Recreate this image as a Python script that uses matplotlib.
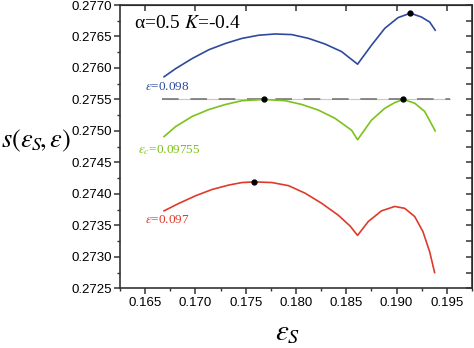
import matplotlib
matplotlib.use("Agg")
import matplotlib.pyplot as plt
from matplotlib.ticker import MultipleLocator

plt.rcParams["mathtext.fontset"] = "stix"

# ---- data ----
blue_x = [0.16688, 0.16804, 0.16968, 0.17134, 0.17299, 0.17463, 0.17629, 0.17794, 0.17958,
          0.18124, 0.18289, 0.18453, 0.18612, 0.18750, 0.18883, 0.19015, 0.19137, 0.19246,
          0.19329, 0.19384]
blue_y = [0.27586, 0.27599, 0.27615, 0.27629, 0.27639, 0.27647, 0.27652, 0.27654, 0.27653,
          0.27647, 0.27638, 0.27626, 0.27606, 0.27636, 0.27663, 0.27680, 0.27687, 0.27681,
          0.27673, 0.27660]

green_x = [0.16688, 0.16804, 0.16968, 0.17134, 0.17299, 0.17463, 0.17681, 0.17893, 0.18057,
           0.18223, 0.18388, 0.18553, 0.18612, 0.18750, 0.18883, 0.18982, 0.19067, 0.19180,
           0.19279, 0.19384]
green_y = [0.27491, 0.27507, 0.27523, 0.27534, 0.27542, 0.27548, 0.27550, 0.27548, 0.27542,
           0.27533, 0.27520, 0.27501, 0.27486, 0.27517, 0.27536, 0.27545, 0.27550, 0.27544,
           0.27531, 0.27500]

red_x = [0.16688, 0.16837, 0.17002, 0.17166, 0.17332, 0.17463, 0.17586, 0.17760, 0.17926,
         0.18091, 0.18255, 0.18421, 0.18537, 0.18612, 0.18718, 0.18850, 0.18982, 0.19081,
         0.19180, 0.19262, 0.19329, 0.19378]
red_y = [0.27373, 0.27385, 0.27397, 0.27407, 0.27414, 0.27418, 0.27419, 0.27418, 0.27413,
         0.27401, 0.27385, 0.27366, 0.27349, 0.27334, 0.27356, 0.27373, 0.27380, 0.27377,
         0.27364, 0.27340, 0.27308, 0.27275]

max_x = [0.19137, 0.17681, 0.19067, 0.17586]
max_y = [0.27687, 0.27550, 0.27550, 0.27419]

crit_level = 0.2755
crit_x = [0.1667, 0.1953]

x_ticks = [0.165, 0.170, 0.175, 0.180, 0.185, 0.190, 0.195]
y_ticks = [0.2725, 0.2730, 0.2735, 0.2740, 0.2745, 0.2750, 0.2755, 0.2760, 0.2765, 0.2770]

BLUE = "#2e4a9e"
GREEN = "#7cc21a"
RED = "#e03a2a"
DARK = "#333333"

fig = plt.figure(figsize=(4.74, 3.48), dpi=100)
ax = fig.add_axes([0.2532, 0.1716, 0.7426, 0.814])

ax.plot(crit_x, [crit_level, crit_level], color="#c8c8c8", lw=0.8, zorder=1)
ax.plot(crit_x, [crit_level, crit_level], color="#777777", lw=1.2,
        dashes=(10, 7), zorder=2)
ax.plot(blue_x, blue_y, color=BLUE, lw=1.2, zorder=3)
ax.plot(green_x, green_y, color=GREEN, lw=1.2, zorder=3)
ax.plot(red_x, red_y, color=RED, lw=1.2, zorder=3)
ax.plot(max_x, max_y, "o", color="black", ms=3.5, zorder=4)

ax.set_xlim(0.1625, 0.1975)
ax.set_ylim(0.2725, 0.2770)
ax.set_xticks(x_ticks)
ax.set_yticks(y_ticks)
ax.set_xticklabels([f"{v:.3f}" for v in x_ticks], family="Liberation Sans", fontsize=9.5)
ax.set_yticklabels([f"{v:.4f}" for v in y_ticks], family="Liberation Sans", fontsize=9.5)
ax.xaxis.set_minor_locator(MultipleLocator(0.0025))
ax.yaxis.set_minor_locator(MultipleLocator(0.00025))

for s in ax.spines.values():
    s.set_color(DARK)
    s.set_linewidth(1.2)

ax.tick_params(which="major", direction="out", length=4, width=1.1, color=DARK, pad=2)
ax.tick_params(which="minor", direction="out", length=2.5, width=1.0, color=DARK)

# mirrored ticks: top (majors only) and right (majors+minors), pointing inward
axt = ax.secondary_xaxis("top")
axt.set_xticks(x_ticks)
axt.set_xticklabels([])
axt.tick_params(direction="in", length=4, width=1.1, color=DARK)
axr = ax.secondary_yaxis("right")
axr.set_yticks(y_ticks)
axr.set_yticklabels([])
axr.yaxis.set_minor_locator(MultipleLocator(0.00025))
axr.tick_params(which="both", direction="in", length=4, width=1.1, color=DARK)

serif = "Liberation Serif"
ax.text(0.04, 0.935, r"α=0.5 $K$=-0.4", transform=ax.transAxes, family=serif,
        fontsize=14, va="center", ha="left")

ax.text(0.1650, 0.27570, r"$\varepsilon$=0.098", color=BLUE, family=serif, fontsize=9.5,
        ha="left", va="center")
ax.text(0.16425, 0.27470, r"$\varepsilon_c$=0.09755", color=GREEN, family=serif, fontsize=9.5,
        ha="left", va="center")
ax.text(0.1650, 0.27359, r"$\varepsilon$=0.097", color=RED, family=serif, fontsize=9.5,
        ha="left", va="center")

fig.text(0.003, 0.595, r"$s(\varepsilon_{S}\!,\varepsilon)$", fontsize=19, ha="left", va="center")
fig.text(0.607, 0.045, r"$\varepsilon_{S}$", fontsize=21, ha="center", va="center")

fig.savefig("out.png", dpi=100)
